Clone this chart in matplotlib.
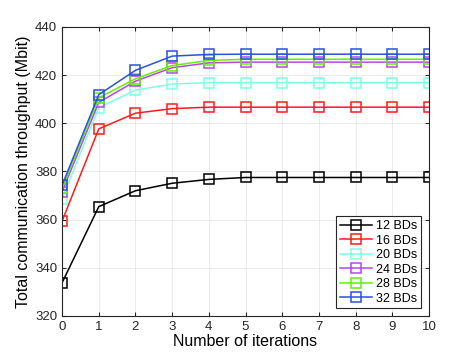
"""
反復回数と総通信スループットの関係 (BD 数ごと)
"""
import numpy as np
from matplotlib import pyplot as plt

plt.rcParams["font.family"] = ["Liberation Sans", "DejaVu Sans"]

# データ
iterations = np.arange(0, 11)
bd_labels = ["12 BDs", "16 BDs", "20 BDs", "24 BDs", "28 BDs", "32 BDs"]
thr_12 = [333.8, 365.4, 372.0, 375.1, 376.7, 377.5, 377.5, 377.5, 377.5, 377.5, 377.5]
thr_16 = [359.4, 397.7, 404.2, 406.1, 406.7, 406.7, 406.7, 406.7, 406.7, 406.7, 406.7]
thr_20 = [368.7, 406.5, 413.8, 416.3, 416.9, 416.9, 416.9, 416.9, 416.9, 416.9, 416.9]
thr_24 = [371.6, 408.7, 417.5, 423.1, 425.1, 425.4, 425.4, 425.4, 425.4, 425.4, 425.4]
thr_28 = [373.0, 410.6, 418.5, 424.0, 426.1, 426.6, 426.6, 426.6, 426.6, 426.6, 426.6]
thr_32 = [374.3, 411.9, 422.0, 427.9, 428.6, 428.7, 428.7, 428.7, 428.7, 428.7, 428.7]
series = [thr_12, thr_16, thr_20, thr_24, thr_28, thr_32]
colors = ["#000000", "#ff1a1a", "#80ffe0", "#b446f0", "#66f000", "#2a4ee6"]

fig = plt.figure(figsize=(4.74, 3.55), dpi=100)
ax = fig.add_axes([0.131, 0.110, 0.774, 0.814])
for y, c, lab in zip(series, colors, bd_labels):
    ax.plot(iterations, y, "-s", c=c, mfc="none", mec=c, ms=6.5, mew=1.1,
            lw=1.1, label=lab)

ax.set_xlim(0, 10)
ax.set_ylim(320, 440)
ax.set_xticks(np.arange(0, 11, 1))
ax.set_yticks(np.arange(320, 441, 20))
ax.tick_params(direction="in", labelsize=9.5, length=3, top=True, right=True,
               colors="#262626")
for s in ax.spines.values():
    s.set_color("#262626")
    s.set_linewidth(0.8)
ax.grid(color="#e6e6e6", lw=0.6)
ax.set_axisbelow(True)
ax.set_xlabel("Number of iterations", fontsize=11.5, labelpad=1)
ax.set_ylabel("Total communication throughput (Mbit)", fontsize=11.5, labelpad=3)
leg = ax.legend(loc="lower right", fontsize=9, fancybox=False, framealpha=1,
                edgecolor="#262626", handlelength=2.6, handletextpad=0.35,
                labelspacing=0.2, borderpad=0.3, borderaxespad=0.6)
leg.get_frame().set_linewidth(0.8)
fig.savefig("out.png", dpi=100)
